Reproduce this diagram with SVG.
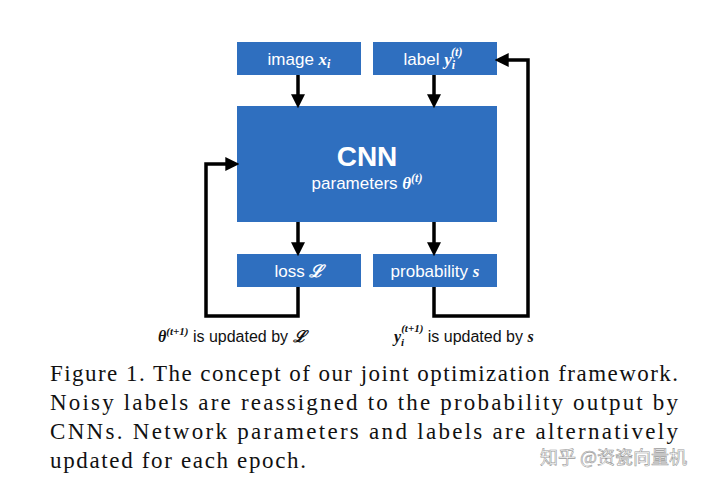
<svg xmlns="http://www.w3.org/2000/svg" width="716" height="482" viewBox="0 0 716 482">
<style>
.box{fill:#2f6fbf}
.bt{font-family:"Liberation Sans",Arial,sans-serif;fill:#fff;font-size:17px;text-anchor:middle}
.m{font-family:"Liberation Serif",serif;font-style:italic;font-weight:bold}
.ln{fill:none;stroke:#000;stroke-width:3.5}
.cap{font-family:"Liberation Serif",serif;font-size:23px;fill:#111}
.lab{font-family:"Liberation Sans",Arial,sans-serif;font-size:16px;fill:#111}
</style>
<defs><marker id="ah" markerWidth="4" markerHeight="4" refX="2.2" refY="2" orient="auto"><path d="M0,0L4,2L0,4z" fill="#000"/></marker></defs>
<rect width="716" height="482" fill="#fff"/>
<g id="image"><rect class="box" x="237" y="42" width="124" height="33"/><text class="bt" x="299" y="65">image <tspan class="m">x<tspan font-size="12" dy="3">i</tspan></tspan></text></g>
<g id="label"><rect class="box" x="373" y="42" width="124" height="33"/><text class="bt" x="433" y="65">label <tspan class="m">y<tspan font-size="12" dy="4">i</tspan><tspan font-size="12" dx="-4" dy="-13">(t)</tspan></tspan></text></g>
<g id="cnn"><rect class="box" x="237" y="106" width="260" height="116"/><text class="bt" x="367" y="166" style="font-size:28px;font-weight:bold">CNN</text><text class="bt" x="367" y="189">parameters <tspan class="m">θ<tspan font-size="12" dy="-7">(t)</tspan></tspan></text></g>
<g id="loss"><rect class="box" x="237" y="254" width="124" height="33"/><text class="bt" x="299" y="277">loss <tspan class="m">ℒ</tspan></text></g>
<g id="prob"><rect class="box" x="373" y="254" width="124" height="33"/><text class="bt" x="435" y="277">probability <tspan class="m">s</tspan></text></g>
<g id="connectors">
<path class="ln" d="M298,75V102" marker-end="url(#ah)"/>
<path class="ln" d="M434,75V102" marker-end="url(#ah)"/>
<path class="ln" d="M298,222V250" marker-end="url(#ah)"/>
<path class="ln" d="M434,222V250" marker-end="url(#ah)"/>
<path class="ln" d="M298,287V316H206V164H233" marker-end="url(#ah)"/>
<path class="ln" d="M434,287V316H528V60H501" marker-end="url(#ah)"/>
</g>
<text class="lab" x="158" y="342"><tspan class="m">θ</tspan><tspan font-size="11" class="m" dy="-7">(t+1)</tspan><tspan dy="7"> is updated by </tspan><tspan class="m">ℒ</tspan></text>
<text class="lab" x="394" y="342"><tspan class="m">y</tspan><tspan font-size="11" class="m" dy="4">i</tspan><tspan font-size="11" class="m" dx="-3" dy="-14">(t+1)</tspan><tspan dy="10"> is updated by </tspan><tspan class="m">s</tspan></text>
<text class="cap" x="50" y="381" textLength="628">Figure 1. The concept of our joint optimization framework.</text>
<text class="cap" x="50" y="410" textLength="628">Noisy labels are reassigned to the probability output by</text>
<text class="cap" x="50" y="439" textLength="628">CNNs.  Network parameters and labels are alternatively</text>
<text class="cap" x="50" y="468" textLength="256">updated for each epoch.</text>
<text x="540" y="464" font-family="'Noto Sans CJK SC',sans-serif" font-size="18" fill="#fff" stroke="#888" stroke-width="0.6" opacity="0.85">知乎 @资瓷向量机</text>
</svg>
